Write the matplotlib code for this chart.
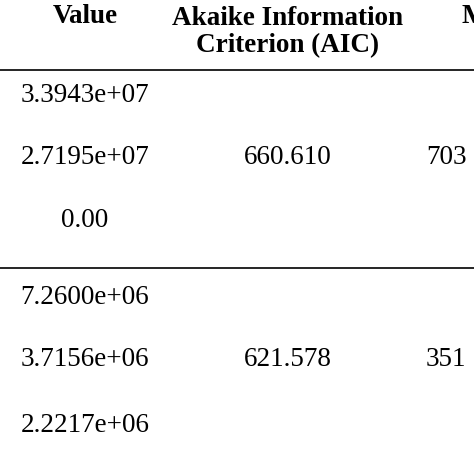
import matplotlib.pyplot as plt

plt.rcParams['font.family'] = ['Liberation Serif', 'DejaVu Serif']

headers = ["Value", "Akaike Information\nCriterion (AIC)", "M"]
values_a = ["3.3943e+07", "2.7195e+07", "0.00"]
aic_a = "660.610"
third_a = "703"
values_b = ["7.2600e+06", "3.7156e+06", "2.2217e+06"]
aic_b = "621.578"
third_b = "351"

fig = plt.figure(figsize=(4.74, 4.74), dpi=100)
ax = fig.add_axes([0, 0, 1, 1])
ax.set_xlim(0, 474)
ax.set_ylim(474, 0)
ax.axis('off')

fs = 19.5
ax.text(85, 16, headers[0], ha='center', va='center', fontsize=fs, fontweight='bold')
ax.text(288, 32, headers[1], ha='center', va='center', fontsize=fs, fontweight='bold',
        linespacing=1.15)
ax.text(462, 16, headers[2], ha='left', va='center', fontsize=fs, fontweight='bold')

ax.axhline(70, color='black', lw=1.2)
ax.axhline(268, color='black', lw=1.2)

rows_y = [95, 157, 220]
for y, v in zip(rows_y, values_a):
    ax.text(85, y, v, ha='center', va='center', fontsize=fs)
ax.text(288, 157, aic_a, ha='center', va='center', fontsize=fs)
ax.text(426, 157, third_a, ha='left', va='center', fontsize=fs)

rows_y = [298, 360, 425]
for y, v in zip(rows_y, values_b):
    ax.text(85, y, v, ha='center', va='center', fontsize=fs)
ax.text(288, 360, aic_b, ha='center', va='center', fontsize=fs)
ax.text(426, 360, third_b, ha='left', va='center', fontsize=fs)

fig.savefig('out.png', dpi=100, facecolor='white')
